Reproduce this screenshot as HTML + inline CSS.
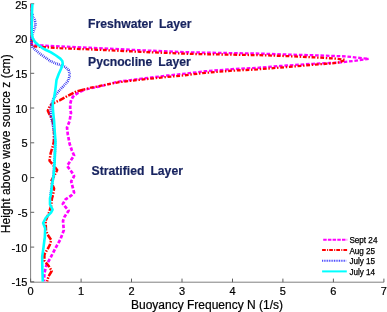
<!DOCTYPE html>
<html><head><meta charset="utf-8"><title>Buoyancy Frequency</title>
<style>
html,body{margin:0;padding:0;background:#fff;}
svg{display:block;font-family:"Liberation Sans",sans-serif;}
</style></head><body>
<svg width="387" height="312" viewBox="0 0 387 312">
<rect width="387" height="312" fill="#fff"/>
<g stroke="#808080" stroke-width="1" fill="none">
<line x1="30.6" y1="3.8" x2="30.6" y2="282.2"/>
<line x1="30.6" y1="282.2" x2="383.9" y2="282.2"/>
<line x1="30.6" y1="282.2" x2="30.6" y2="278.59999999999997" stroke="#606060"/><line x1="81.1" y1="282.2" x2="81.1" y2="278.59999999999997" stroke="#606060"/><line x1="131.5" y1="282.2" x2="131.5" y2="278.59999999999997" stroke="#606060"/><line x1="182.0" y1="282.2" x2="182.0" y2="278.59999999999997" stroke="#606060"/><line x1="232.5" y1="282.2" x2="232.5" y2="278.59999999999997" stroke="#606060"/><line x1="282.9" y1="282.2" x2="282.9" y2="278.59999999999997" stroke="#606060"/><line x1="333.4" y1="282.2" x2="333.4" y2="278.59999999999997" stroke="#606060"/><line x1="383.9" y1="282.2" x2="383.9" y2="278.59999999999997" stroke="#606060"/><line x1="30.6" y1="3.8" x2="34.2" y2="3.8" stroke="#606060"/><line x1="30.6" y1="38.5" x2="34.2" y2="38.5" stroke="#606060"/><line x1="30.6" y1="73.3" x2="34.2" y2="73.3" stroke="#606060"/><line x1="30.6" y1="108.0" x2="34.2" y2="108.0" stroke="#606060"/><line x1="30.6" y1="142.8" x2="34.2" y2="142.8" stroke="#606060"/><line x1="30.6" y1="177.6" x2="34.2" y2="177.6" stroke="#606060"/><line x1="30.6" y1="212.3" x2="34.2" y2="212.3" stroke="#606060"/><line x1="30.6" y1="247.1" x2="34.2" y2="247.1" stroke="#606060"/><line x1="30.6" y1="281.8" x2="34.2" y2="281.8" stroke="#606060"/>
</g>
<g font-size="11" fill="#000" stroke="#000" stroke-width="0.2"><text x="30.6" y="294.5" text-anchor="middle">0</text><text x="81.1" y="294.5" text-anchor="middle">1</text><text x="131.5" y="294.5" text-anchor="middle">2</text><text x="182.0" y="294.5" text-anchor="middle">3</text><text x="232.5" y="294.5" text-anchor="middle">4</text><text x="282.9" y="294.5" text-anchor="middle">5</text><text x="333.4" y="294.5" text-anchor="middle">6</text><text x="383.9" y="294.5" text-anchor="middle">7</text><text x="27.5" y="8.7" text-anchor="end">25</text><text x="27.5" y="43.1" text-anchor="end">20</text><text x="27.5" y="77.9" text-anchor="end">15</text><text x="27.5" y="112.6" text-anchor="end">10</text><text x="27.5" y="147.4" text-anchor="end">5</text><text x="27.5" y="182.2" text-anchor="end">0</text><text x="27.5" y="216.9" text-anchor="end">-5</text><text x="27.5" y="251.7" text-anchor="end">-10</text><text x="27.5" y="286.4" text-anchor="end">-15</text></g>
<text x="207" y="309" font-size="12" text-anchor="middle" fill="#000" stroke="#000" stroke-width="0.2">Buoyancy Frequency N (1/s)</text>
<text transform="translate(9.6,143.7) rotate(-90)" font-size="12" text-anchor="middle" textLength="179" lengthAdjust="spacing" fill="#000" stroke="#000" stroke-width="0.2">Height above wave source z (cm)</text>
<g fill="none" stroke-linejoin="round">
<polyline points="31.8,4.0 31.8,43.8 32.3,44.9 60.0,46.4 90.0,47.7 140.0,50.2 190.0,52.3 200.0,52.5 260.0,53.6 287.0,54.5 315.0,55.3 346.0,56.4 368.8,58.9 353.8,60.9 341.4,62.3 330.0,63.0 312.8,63.8 287.0,65.5 280.0,66.0 257.5,67.8 231.7,69.1 205.8,71.2 180.0,74.2 167.5,75.5 141.7,78.6 120.0,81.4 114.3,82.6 100.3,86.3 91.0,88.2 83.3,90.2" stroke="#ff00ff" stroke-width="2.3" stroke-dasharray="3.6 1.8"/>
<polyline points="83.3,90.2 78.6,92.4 74.7,95.0 72.8,97.0 71.2,100.0 70.2,104.0 70.2,110.0 71.0,112.7 69.6,121.0 67.0,127.5 67.8,134.4 69.6,143.7 71.8,150.3 74.1,155.5 70.6,160.7 67.1,165.8 71.7,172.0 74.1,176.2 71.2,181.3 73.3,189.6 74.1,192.5 71.7,195.2 65.5,199.3 62.8,204.0 68.6,210.7 64.4,216.9 63.0,221.0 63.8,230.3 60.3,239.6 56.2,246.8 50.6,257.6 46.5,264.8 44.4,273.0 44.0,281.3" stroke="#ff00ff" stroke-width="2.7" stroke-dasharray="3.6 1.8"/>
<polyline points="31.8,4.0 31.8,44.5 32.3,46.3 60.0,48.2 90.0,49.4 140.0,51.8 190.0,53.9 200.0,54.1 260.0,55.2 287.0,56.1 315.0,57.4 335.0,58.6 345.2,59.8 339.8,62.3 330.5,63.5 315.0,64.6 287.0,67.1 280.0,67.6 257.5,69.4 231.7,70.7 205.8,72.8 180.0,75.8 167.5,76.9 141.7,79.6 120.0,82.1 114.3,83.1 106.5,84.6 98.8,86.2 91.0,87.6 83.3,89.6" stroke="#ff0000" stroke-width="2.3" stroke-dasharray="3.8 1.7 1.5 1.7"/>
<polyline points="83.3,89.6 75.5,91.9 67.8,95.8 60.0,100.2 55.1,102.3 50.0,105.5 47.8,110.7 49.5,114.5 52.0,119.0 53.3,124.0 54.0,131.3 53.8,141.7 52.8,146.2 50.6,153.4 49.5,160.7 53.0,164.8 57.2,170.0 54.1,176.2 51.0,181.3 54.1,188.6 53.0,194.8 52.0,198.3 51.0,206.5 48.9,212.7 45.6,221.0 46.0,230.0 47.5,234.5 51.2,240.0 50.0,244.5 48.5,247.5 44.4,254.5 44.4,260.7 48.6,265.8 51.7,271.0 48.6,276.2 47.1,281.3" stroke="#ff0000" stroke-width="2.5" stroke-dasharray="6 1.4 1.5 1.4"/>
<polyline points="32.5,14.0 32.8,17.0 34.5,19.5 35.5,22.7 35.3,26.0 34.0,30.0 32.4,34.0 31.5,38.0 31.2,43.0 32.4,46.8 36.0,50.5 40.7,54.4 46.0,58.0 51.0,61.5 56.0,63.5 61.3,65.3 65.5,67.0 68.6,70.0 70.0,75.1 68.1,80.8 65.0,84.6 60.4,89.2 56.5,93.8 53.5,99.0 51.5,103.5 51.0,106.5 50.6,114.8 52.5,123.0 54.0,131.0 55.0,141.0 55.0,150.0 54.5,160.0 53.5,175.0 52.0,185.0 50.5,195.0" stroke="#2b2bf0" stroke-width="2.7" stroke-dasharray="0.85 1.05"/>
<polyline points="32.4,3.7 32.0,12.0 31.8,20.0 31.7,30.0 32.0,35.0 32.8,38.4 35.0,42.0 38.0,44.8 42.0,47.8 46.0,50.0 51.0,52.4 56.0,55.5 60.3,58.6 62.3,61.0 62.8,64.0 61.2,68.5 58.8,73.8 56.5,80.0 55.8,86.2 55.0,92.3 53.9,98.5 52.8,103.0 52.8,106.0 53.0,110.7 54.1,121.0 54.7,131.3 55.5,141.7 55.1,150.3 54.7,160.7 53.7,175.1 52.0,185.5 50.6,195.8 50.0,198.3 50.0,204.5 52.6,209.6 51.0,212.7 45.8,217.9 43.1,223.0 45.2,228.2 44.8,237.5 44.4,240.0 43.4,248.3 42.2,256.5 42.3,266.9 42.8,281.6" stroke="#00ffff" stroke-width="2.6"/>
</g>
<g font-size="12.2" font-weight="bold" fill="#17235f" stroke="#17235f" stroke-width="0.2" style="word-spacing:2.6px">
<text x="88" y="27.6">Freshwater Layer</text>
<text x="88" y="65.5">Pycnocline Layer</text>
<text x="91.6" y="175.2">Stratified Layer</text>
</g>
<g fill="none">
<line x1="323.2" y1="239.8" x2="347.2" y2="239.8" stroke="#ff00ff" stroke-width="2" stroke-dasharray="3.5 1.2"/>
<line x1="322.1" y1="250.1" x2="347.2" y2="250.1" stroke="#ff0000" stroke-width="2" stroke-dasharray="3.7 1.3 1 1.1"/>
<line x1="322.1" y1="260.8" x2="346.2" y2="260.8" stroke="#3a3aff" stroke-width="2" stroke-dasharray="0.9 0.8"/>
<line x1="322.1" y1="271.4" x2="346.8" y2="271.4" stroke="#00ffff" stroke-width="2"/>
</g>
<g font-size="8.15" fill="#000" stroke="#000" stroke-width="0.25">
<text x="349.4" y="243.3">Sept 24</text>
<text x="349.4" y="253.7">Aug 25</text>
<text x="349.4" y="264.2">July 15</text>
<text x="349.4" y="274.6">July 14</text>
</g>
</svg>
</body></html>
